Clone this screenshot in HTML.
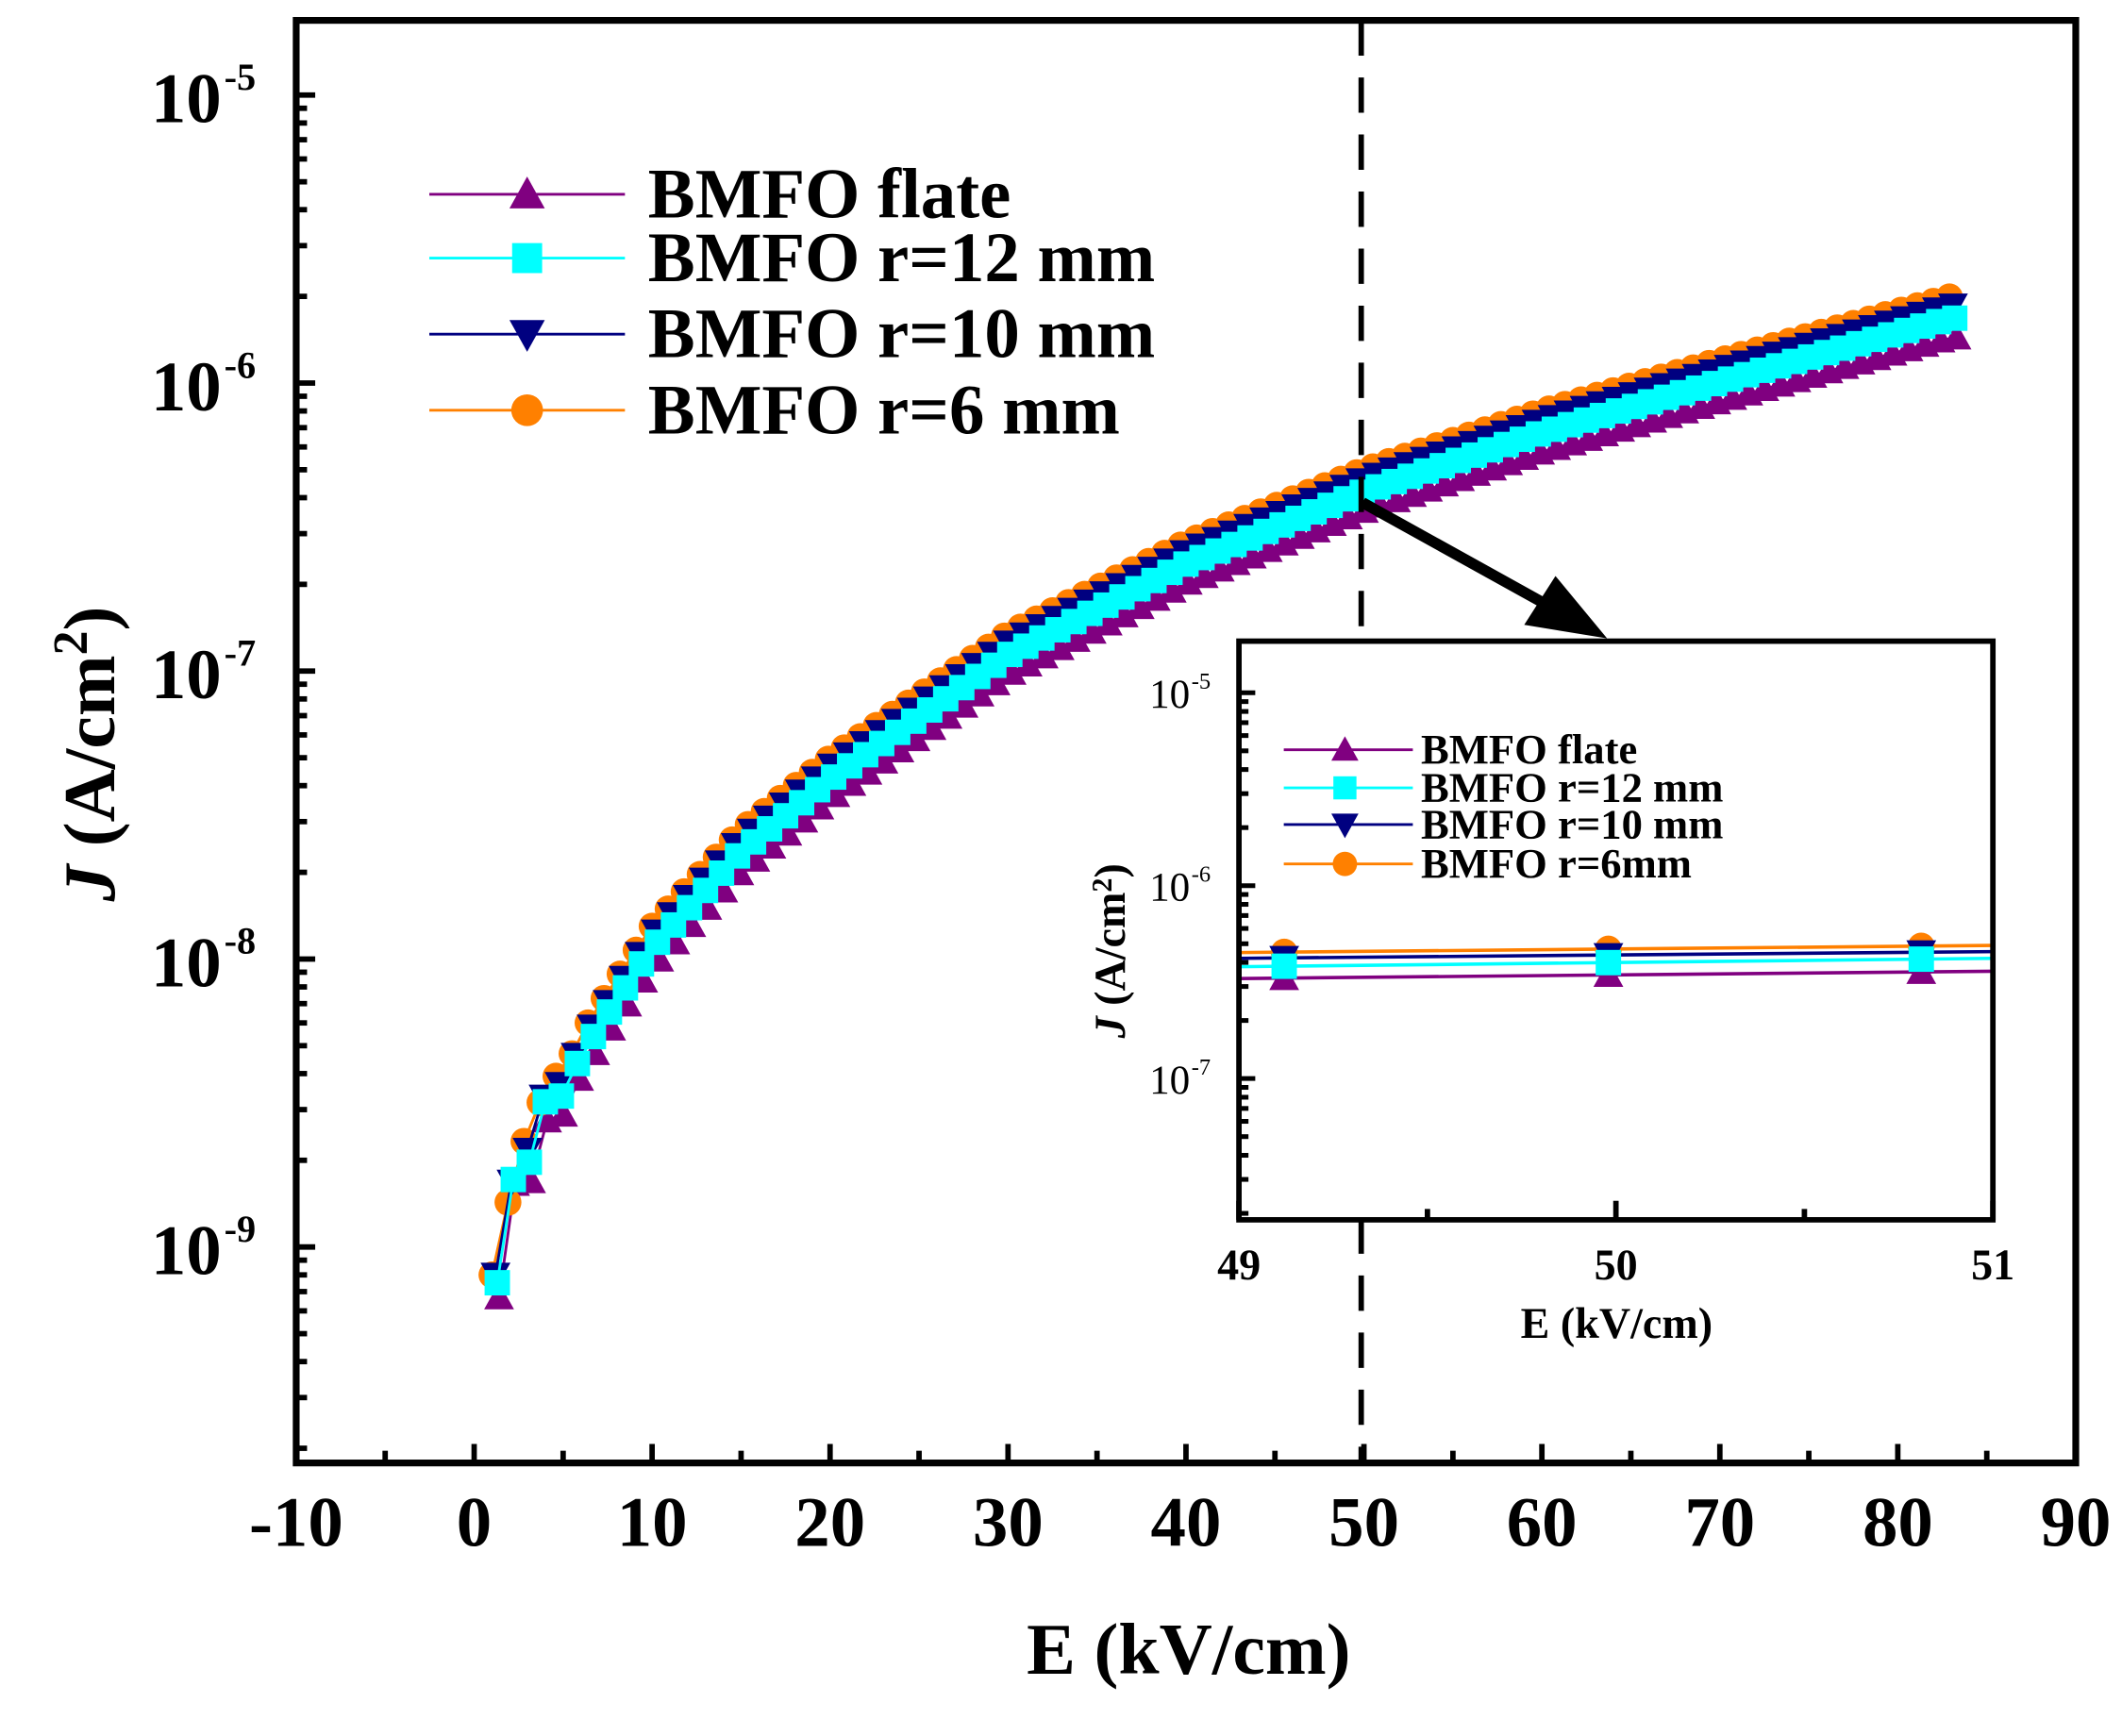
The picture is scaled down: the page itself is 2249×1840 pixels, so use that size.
<!DOCTYPE html>
<html><head><meta charset="utf-8"><style>
html,body{margin:0;padding:0;background:#fff;overflow:hidden;}
svg{display:block;font-family:"Liberation Serif",serif;font-weight:bold;}
</style></head><body>
<svg id="s" xmlns="http://www.w3.org/2000/svg" width="2249" height="1840" viewBox="0 0 1562 1278">
<rect width="1562" height="1278" fill="#fff"/>
<g id="g"></g>
</svg>
<script>
let out="";
const L=218,R=1528,T=15,B=1077;
const X=x=>L+(x+10)*(R-L)/100;
const Y=j=>282+(-6-Math.log10(j))*212;
const pts=[[1,8e-10],[1.6,1e-9],[2.3,2.3e-9],[3.2,2.35e-9],[4,3.8e-9],[5,4e-9],[6,5.5e-9],[8,8.5e-9],[10,1.3e-8],[15,2.8e-8],[20,5e-8],[30,1.35e-7],[40,2.8e-7],[50,5e-7],[60,8e-7],[70,1.2e-6],[83,2e-6]];
function J(e){for(let i=0;i<pts.length-1;i++){if(e<=pts[i+1][0]){const a=pts[i],b=pts[i+1];const t=(e-a[0])/(b[0]-a[0]);return Math.pow(10,Math.log10(a[1])+t*(Math.log10(b[1])-Math.log10(a[1])));}}return pts[pts.length-1][1];}
const ser=[{c:"#800080",f:0.72,m:"tu",o:0.4},{c:"#FF8000",f:1.0,m:"c",o:0},{c:"#000080",f:0.93,m:"td",o:0.2},{c:"#00FFFF",f:0.84,m:"s",o:0.3}];
function marker(m,x,y,c,r){
 x=+x;y=+y;
 if(m=="tu")return `<polygon points="${x},${y-r} ${x-r},${y+r*0.8} ${x+r},${y+r*0.8}" fill="${c}"/>`;
 if(m=="td")return `<polygon points="${x},${y+r} ${x-r},${y-r*0.8} ${x+r},${y-r*0.8}" fill="${c}"/>`;
 if(m=="s")return `<rect x="${x-r*0.85}" y="${y-r*0.85}" width="${r*1.7}" height="${r*1.7}" fill="${c}"/>`;
 return `<circle cx="${x}" cy="${y}" r="${r*0.9}" fill="${c}"/>`;
}
for(const s of ser){
 let d="",mk="";
 for(let e=1;e<=83.6;e+=0.9){const ee=e+s.o;const x=X(ee),y=Y(J(ee)*s.f);d+=(d?"L":"M")+x.toFixed(1)+","+y.toFixed(1);mk+=marker(s.m,x,y,s.c,11);}
 out+=`<path d="${d}" fill="none" stroke="${s.c}" stroke-width="2"/>`+mk;
}
out+=`<line x1="1002" y1="15" x2="1002" y2="1077" stroke="#000" stroke-width="4" stroke-dasharray="26,16"/>`;
out+=`<rect x="${L}" y="${T}" width="${R-L}" height="${B-T}" fill="none" stroke="#000" stroke-width="5"/>`;
for(let v=-10;v<=90;v+=5){const x=X(v);const len=v%10==0?14:9;out+=`<line x1="${x}" y1="${B}" x2="${x}" y2="${B-len}" stroke="#000" stroke-width="4"/>`;
 if(v%10==0)out+=`<text x="${x}" y="1138" font-size="52" text-anchor="middle">${v}</text>`;}
for(let d=-10;d<=-5;d++){for(let k=1;k<10;k++){const j=k*Math.pow(10,d);const y=Y(j);if(y<T||y>B)continue;const len=k==1?14:8;out+=`<line x1="${L}" y1="${y}" x2="${L+len}" y2="${y}" stroke="#000" stroke-width="4"/>`;}}
for(let d=-9;d<=-5;d++){const y=Y(Math.pow(10,d));out+=`<text x="163" y="${y+20}" font-size="52" text-anchor="end">10</text><text x="165" y="${y-4}" font-size="28" text-anchor="start">${d}</text>`;}
out+=`<text x="875" y="1232" font-size="54" text-anchor="middle">E (kV/cm)</text>`;
out+=`<text transform="translate(84,555) rotate(-90)" font-size="54" text-anchor="middle"><tspan font-style="italic">J</tspan> (A/cm<tspan font-size="36" dy="-20">2</tspan><tspan dy="20">)</tspan></text>`;
const lg=[["BMFO flate",0,143],["BMFO r=12 mm",3,190],["BMFO r=10 mm",2,246],["BMFO r=6 mm",1,302]];
for(const [t,i,y] of lg){const s=ser[i];out+=`<line x1="316" y1="${y}" x2="460" y2="${y}" stroke="${s.c}" stroke-width="2"/>`+marker(s.m,388,y,s.c,13)+`<text x="477" y="${y+17}" font-size="52">${t}</text>`;}
out+=`<line x1="1003" y1="370" x2="1140" y2="446" stroke="#000" stroke-width="8"/><polygon points="1183,470 1122,460 1145,424" fill="#000"/>`;
const iL=912,iR=1467,iT=472,iB=898;
out+=`<rect x="${iL}" y="${iT}" width="${iR-iL}" height="${iB-iT}" fill="#fff"/>`;
const IX=x=>iL+(x-49)*(iR-iL)/2;
const IY=j=>652+(-6-Math.log10(j))*142;
const iv=[[3.3e-7,3.6e-7],[4.5e-7,4.9e-7],[4.2e-7,4.55e-7],[3.8e-7,4.2e-7]];
const ex=[49.12,49.98,50.81];
ser.forEach((s,i)=>{const [a,b]=iv[i];const f=e=>Math.pow(10,Math.log10(a)+(e-49)/2*(Math.log10(b)-Math.log10(a)));
 out+=`<line x1="${iL}" y1="${IY(f(49))}" x2="${iR}" y2="${IY(f(51))}" stroke="${s.c}" stroke-width="2.5"/>`;
 for(const e of ex)out+=marker(s.m,IX(e),IY(f(e)),s.c,11);});
out+=`<rect x="${iL}" y="${iT}" width="${iR-iL}" height="${iB-iT}" fill="none" stroke="#000" stroke-width="4"/>`;
for(let v=49;v<=51.01;v+=0.5){const x=IX(v);const len=Math.abs(v-Math.round(v))<0.01?14:8;out+=`<line x1="${x}" y1="${iB}" x2="${x}" y2="${iB-len}" stroke="#000" stroke-width="4"/>`;}
for(const v of [49,50,51])out+=`<text x="${IX(v)}" y="942" font-size="32" text-anchor="middle">${v}</text>`;
for(let d=-8;d<=-5;d++){for(let k=1;k<10;k++){const y=IY(k*Math.pow(10,d));if(y<iT||y>iB)continue;const len=k==1?12:7;out+=`<line x1="${iL}" y1="${y}" x2="${iL+len}" y2="${y}" stroke="#000" stroke-width="3.5"/>`;}}
for(let d=-7;d<=-5;d++){const y=IY(Math.pow(10,d));out+=`<text x="876" y="${y+11}" font-size="30" text-anchor="end" font-weight="normal">10</text><text x="877" y="${y-3}" font-size="17" font-weight="normal">${d}</text>`;}
out+=`<text x="1190" y="985" font-size="32" text-anchor="middle">E (kV/cm)</text>`;
out+=`<text transform="translate(828,700) rotate(-90)" font-size="32" text-anchor="middle"><tspan font-style="italic">J</tspan> (A/cm<tspan font-size="21" dy="-10">2</tspan><tspan dy="10">)</tspan></text>`;
const lg2=[["BMFO flate",0,552],["BMFO r=12 mm",3,580],["BMFO r=10 mm",2,607],["BMFO r=6mm",1,636]];
for(const [t,i,y] of lg2){const s=ser[i];out+=`<line x1="945" y1="${y}" x2="1040" y2="${y}" stroke="${s.c}" stroke-width="2"/>`+marker(s.m,990,y,s.c,10)+`<text x="1046" y="${y+10}" font-size="31">${t}</text>`;}
document.getElementById("g").innerHTML=out;
</script>
</body></html>
